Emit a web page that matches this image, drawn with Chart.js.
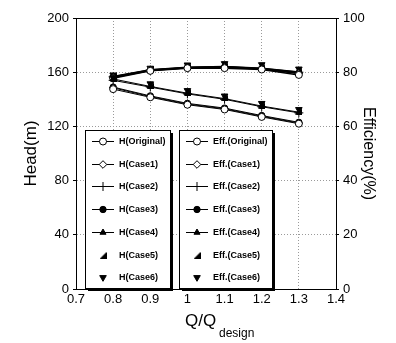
<!DOCTYPE html>
<html>
<head>
<meta charset="utf-8">
<script src="https://cdn.jsdelivr.net/npm/chart.js@4.4.1/dist/chart.umd.min.js"></script>
<style>
  html, body { margin: 0; padding: 0; background: #fff; }
  #wrap { width: 396px; height: 343px; }
</style>
</head>
<body>
<div id="wrap"><canvas id="chart-1"></canvas></div>
<script>
// flow ratio Q/Qdesign
const flowRatio = [0.8, 0.9, 1.0, 1.1, 1.2, 1.3];

// head (m)
const headOriginal = [147.5, 141.5, 136, 132.5, 127, 122];
const headCase1 = [148.5, 142, 136.5, 133, 127.5, 122.5];
const headCase2 = [154, 149, 144, 140, 134.5, 130];
const headCase3 = [149, 142.5, 137, 133.5, 128, 123];
const headCase4 = [155, 149.5, 144.5, 140.5, 135, 130.5];
const headCase5 = [155, 150, 145, 141, 135.5, 131];
const headCase6 = [156, 151.5, 146.5, 142.5, 137, 132.5];

// efficiency (%)
const effOriginal = [77.8, 80.5, 81.5, 81.5, 81, 79];
const effCase1 = [78, 80.6, 81.6, 81.8, 81.2, 79.5];
const effCase2 = [78.3, 80.8, 81.7, 82, 81.4, 80];
const effCase3 = [78.1, 80.7, 81.6, 81.9, 81.3, 79.7];
const effCase4 = [78.4, 80.9, 81.8, 82.1, 81.5, 80.1];
const effCase5 = [78.6, 81.1, 82, 82.4, 81.8, 80.4];
const effCase6 = [79, 81.5, 82.7, 83.2, 82.8, 81.2];

const caseNames = ['Original', 'Case1', 'Case2', 'Case3', 'Case4', 'Case5', 'Case6'];
const headSeries = [headOriginal, headCase1, headCase2, headCase3, headCase4, headCase5, headCase6];
const effSeries = [effOriginal, effCase1, effCase2, effCase3, effCase4, effCase5, effCase6];

const xTicks = [0.7, 0.8, 0.9, 1.0, 1.1, 1.2, 1.3, 1.4];
const headTicks = [0, 40, 80, 120, 160, 200];
const effTicks = [0, 20, 40, 60, 80, 100];

const FONT = 'Arial, "Liberation Sans", sans-serif';

// little filled corner wedge for Case5
function wedge(size) {
  const c = document.createElement('canvas');
  c.width = size;
  c.height = size;
  const g = c.getContext('2d');
  g.fillStyle = '#000';
  g.beginPath();
  g.moveTo(size, 0);
  g.lineTo(size, size);
  g.lineTo(0, size);
  g.closePath();
  g.fill();
  return c;
}

// marker look per case
const markers = [
  { pointStyle: 'circle', fill: '#fff', rotation: 0, radius: 3.5, line: true },
  { pointStyle: 'rectRot', fill: '#fff', rotation: 0, radius: 3.8, line: true },
  { pointStyle: 'cross', fill: '#000', rotation: 0, radius: 4.5, line: true },
  { pointStyle: 'circle', fill: '#000', rotation: 0, radius: 3.2, line: true },
  { pointStyle: 'triangle', fill: '#000', rotation: 0, radius: 3.5, line: true },
  { pointStyle: wedge(7), fill: '#000', rotation: 0, radius: 3.5, line: false },
  { pointStyle: 'triangle', fill: '#000', rotation: 180, radius: 3.8, line: false },
];

function makeSet(label, values, m, axis, width) {
  return {
    label: label,
    data: values.map((v, i) => ({ x: flowRatio[i], y: v })),
    yAxisID: axis,
    borderColor: '#000',
    backgroundColor: m.fill,
    borderWidth: width,
    showLine: m.line,
    pointStyle: m.pointStyle,
    pointRotation: m.rotation,
    pointRadius: m.radius,
    pointBorderColor: '#000',
    pointBackgroundColor: m.fill,
    pointBorderWidth: 1,
    tension: 0,
  };
}

const headSets = headSeries.map((s, i) => makeSet('H(' + caseNames[i] + ')', s, markers[i], 'y', 1));
const effSets = effSeries.map((s, i) => makeSet('Eff.(' + caseNames[i] + ')', s, markers[i], 'y1', 1.5));

// two boxed keys with a heavy drop shadow
function drawKey(ctx, x0, y0, w, h, sets) {
  ctx.save();
  ctx.fillStyle = '#000';
  ctx.fillRect(x0 + 3, y0 + 3, w, h);
  ctx.fillStyle = '#fff';
  ctx.fillRect(x0, y0, w, h);
  ctx.strokeStyle = '#000';
  ctx.lineWidth = 1;
  ctx.strokeRect(x0 + 0.5, y0 + 0.5, w, h);
  ctx.font = 'bold 9px ' + FONT;
  ctx.textBaseline = 'middle';
  ctx.textAlign = 'left';
  sets.forEach((ds, i) => {
    const y = Math.round(y0 + 11 + i * 22.7) + 0.5;
    ctx.strokeStyle = '#000';
    ctx.lineWidth = 1;
    if (ds.showLine) {
      ctx.beginPath();
      ctx.moveTo(x0 + 7, y);
      ctx.lineTo(x0 + 29, y);
      ctx.stroke();
    }
    ctx.fillStyle = ds.pointBackgroundColor;
    Chart.helpers.drawPoint(ctx, {
      pointStyle: ds.pointStyle,
      rotation: ds.pointRotation,
      radius: ds.pointRadius,
      borderWidth: 1,
    }, x0 + 18, y);
    ctx.fillStyle = '#000';
    ctx.fillText(ds.label, x0 + 34, y);
  });
  ctx.restore();
}

const framePlugin = {
  id: 'frame',
  afterDatasetsDraw(chart) {
    const { ctx, chartArea: a } = chart;
    ctx.save();
    ctx.strokeStyle = '#000';
    ctx.lineWidth = 1;
    ctx.setLineDash([]);
    ctx.strokeRect(Math.round(a.left) + 0.5, Math.round(a.top) + 0.5,
      Math.round(a.right - a.left), Math.round(a.bottom - a.top));
    ctx.restore();

    drawKey(ctx, 85, 130, 85, 158, headSets);
    drawKey(ctx, 179, 130, 93, 158, effSets);

    // x axis title with subscript
    ctx.save();
    ctx.fillStyle = '#000';
    ctx.textAlign = 'left';
    ctx.textBaseline = 'alphabetic';
    ctx.font = '17px ' + FONT;
    ctx.fillText('Q/Q', 185, 326);
    ctx.font = '12px ' + FONT;
    ctx.fillText('design', 219, 337);
    ctx.restore();
  }
};

// dotted grey grid, solid black axis line
const gridStyle = { color: '#9a9a9a', tickColor: '#000' };
const borderStyle = { display: true, color: '#000', dash: [1, 2] };

const ctx1 = document.getElementById('chart-1').getContext('2d');
const chart1 = new Chart(ctx1, {
  type: 'line',
  data: { datasets: headSets.concat(effSets) },
  plugins: [framePlugin],
  options: {
    responsive: true,
    maintainAspectRatio: false,
    animation: false,
    layout: { padding: { top: 18, left: 0, right: 0, bottom: 0 } },
    plugins: {
      legend: { display: false },
      tooltip: { enabled: false },
    },
    scales: {
      x: {
        type: 'linear',
        min: 0.7,
        max: 1.4,
        afterBuildTicks: (s) => { s.ticks = xTicks.map(v => ({ value: v })); },
        ticks: {
          color: '#000',
          font: { family: FONT, size: 13 },
          padding: 3,
          maxRotation: 0,
          callback: (v) => String(Number(v.toFixed(1))),
        },
        grid: Object.assign({ drawTicks: false }, gridStyle),
        border: borderStyle,
        afterFit: (s) => { s.height = 54; },
      },
      y: {
        position: 'left',
        min: 0,
        max: 200,
        afterBuildTicks: (s) => { s.ticks = headTicks.map(v => ({ value: v })); },
        ticks: { color: '#000', font: { family: FONT, size: 13 }, padding: 4 },
        grid: Object.assign({ tickLength: 3, tickBorderDash: [] }, gridStyle),
        border: borderStyle,
        title: {
          display: true,
          text: 'Head(m)',
          color: '#000',
          font: { family: FONT, size: 17, lineHeight: 1 },
          padding: { top: 23, bottom: 0 },
        },
        afterFit: (s) => { s.width = 76; },
      },
      y1: {
        position: 'right',
        min: 0,
        max: 100,
        afterBuildTicks: (s) => { s.ticks = effTicks.map(v => ({ value: v })); },
        ticks: { color: '#000', font: { family: FONT, size: 13 }, padding: 4 },
        grid: { drawOnChartArea: false, tickLength: 3, tickColor: '#000' },
        border: { display: true, color: '#000' },
        title: {
          display: true,
          text: 'Efficiency(%)',
          color: '#000',
          font: { family: FONT, size: 16, lineHeight: 1 },
          padding: { top: 20, bottom: 0 },
        },
        afterFit: (s) => { s.width = 60; },
      },
    },
  },
});
</script>
</body>
</html>
